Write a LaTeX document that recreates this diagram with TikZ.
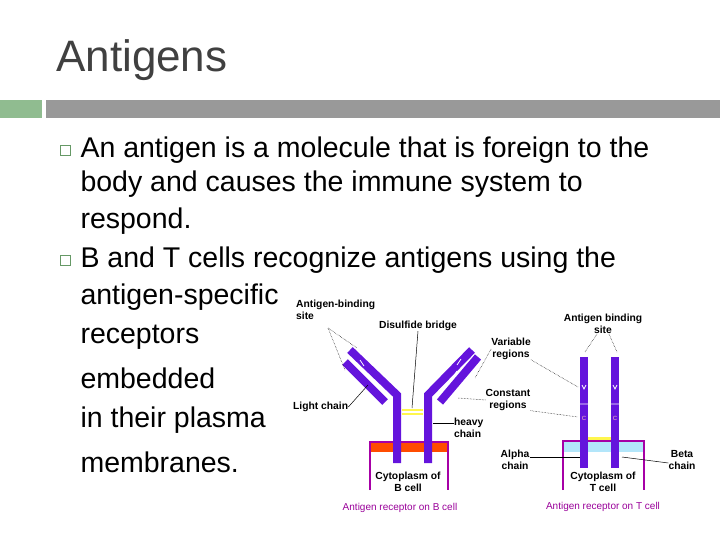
\documentclass[tikz,border=0pt]{standalone}
\usepackage{fontspec}
\setmainfont{Liberation Sans}
\definecolor{chainc}{RGB}{100,20,220}
\begin{document}
\begin{tikzpicture}[x=1pt,y=-1pt,
  body/.style={font=\fontsize{28.5}{28.5}\selectfont,anchor=west},
  lab/.style={font=\fontsize{10.3}{11.5}\selectfont\bfseries,align=center,inner sep=0pt},
  lead/.style={black,line width=0.5pt,densely dotted},
  chain/.style={line width=8pt,color=chainc},
  bul/.style={draw=green!20!gray,line width=0.8pt,minimum size=10pt,inner sep=0pt}]
\useasboundingbox (0,0) rectangle (720,540);
\node[anchor=base west,font=\fontsize{44}{44}\selectfont,text=black!75,inner sep=0pt] (title) at (56,72) {Antigens};
\fill[green!25!gray!70] (0,100) rectangle (42,118);
\fill[gray!80] (46,100) rectangle (720,118);
\node[bul] (b1) at (65,150) {};
\node[bul] (b2) at (65,260) {};
\node[body] (t1) at (77,150) {An antigen is a molecule that is foreign to the};
\node[body] (t2) at (77,184) {body and causes the immune system to};
\node[body] (t3) at (77,221) {respond.};
\node[body] (t4) at (77,260) {B and T cells recognize antigens using the};
\node[body] (t5) at (77,297) {antigen-specific};
\node[body] (t6) at (77,337) {receptors};
\node[body] (t7) at (77,378) {embedded};
\node[body] (t8) at (77,420) {in their plasma};
\node[body] (t9) at (77,462) {membranes.};
% B cell
\fill[orange!60!red] (370,442) rectangle (448,452);
\draw[violet!70!magenta,line width=1.2pt] (370,490) -- (370,442) -- (448,442) -- (448,490);
\draw[chain] (397,463) -- (397,395) -- (350,350);
\draw[chain] (428,463) -- (428,395) -- (472,350);
\draw[chain] (345,362) -- (385,402);
\draw[chain] (478,357) -- (440,402);
\draw[yellow!70,line width=1.3pt] (402,410) -- (423,410) (402,414) -- (423,414);
\draw[white,line width=0.8pt] (360,360)--(364,366) (364,372)--(368,378) (457,365)--(461,359) (453,377)--(457,371);
% T cell
\fill[cyan!30] (563,441) rectangle (644,452);
\fill[yellow!70] (588,437) rectangle (611,441);
\draw[violet!70!magenta,line width=1.2pt] (563,490) -- (563,441) -- (644,441) -- (644,490);
\draw[chain] (584,468) -- (584,357);
\draw[chain] (615,468) -- (615,357);
\draw[white,line width=0.8pt] (580,404)--(588,404) (611,404)--(619,404)
  (582,385)--(584,389)--(586,385) (613,385)--(615,389)--(617,385);
\node[font=\fontsize{6}{6}\selectfont,text=pink] (c1) at (584,418) {C};
\node[font=\fontsize{6}{6}\selectfont,text=pink] (c2) at (615,418) {C};
% labels B
\node[lab,align=left,anchor=north west] (abs) at (296,300) {Antigen-binding\\site};
\node[lab] (dis) at (418,326) {Disulfide bridge};
\node[lab] (var) at (511,349) {Variable\\regions};
\node[lab] (con) at (508,400) {Constant\\regions};
\node[lab,anchor=west] (lc) at (293,407) {Light chain};
\node[lab,anchor=west,align=left] (hc) at (454,428) {heavy\\chain};
\node[lab] (cb) at (408,482) {Cytoplasm of\\B cell};
\node[lab,text=violet!80!magenta,font=\fontsize{10}{11}\selectfont] (rb) at (400,508) {Antigen receptor on B cell};
% labels T
\node[lab] (tabs) at (603,324) {Antigen binding\\site};
\node[lab] (al) at (515,460) {Alpha\\chain};
\node[lab] (be) at (682,460) {Beta\\chain};
\node[lab] (ct) at (603,482) {Cytoplasm of\\T cell};
\node[lab,text=violet!80!magenta,font=\fontsize{10}{11}\selectfont] (rt) at (603,507) {Antigen receptor on T cell};
% leaders
\coordinate (p1) at (328,328);
\draw[lead] (p1) -- (357,348);
\draw[lead] (p1) -- (345,370);
\draw[black,line width=0.5pt] (dis.south) -- (412,408);
\draw[lead] (var.west) -- (475,378);
\draw[lead] (var.south east) -- (578,387);
\draw[lead] (con.west) -- (458,398);
\draw[lead] (con.south east) -- (578,417);
\draw[black,line width=0.5pt] (lc.east) -- (368,385);
\draw[black,line width=0.5pt] (hc.west) ++(0,-5) -- (433,423);
\draw[lead] (597,334) -- (585,352);
\draw[lead] (609,334) -- (617,352);
\draw[black,line width=0.5pt] (al.east) ++(0,-3) -- (580,457);
\draw[black,line width=0.5pt] (622,457) -- ([yshift=-3pt]be.west);
\end{tikzpicture}
\end{document}
